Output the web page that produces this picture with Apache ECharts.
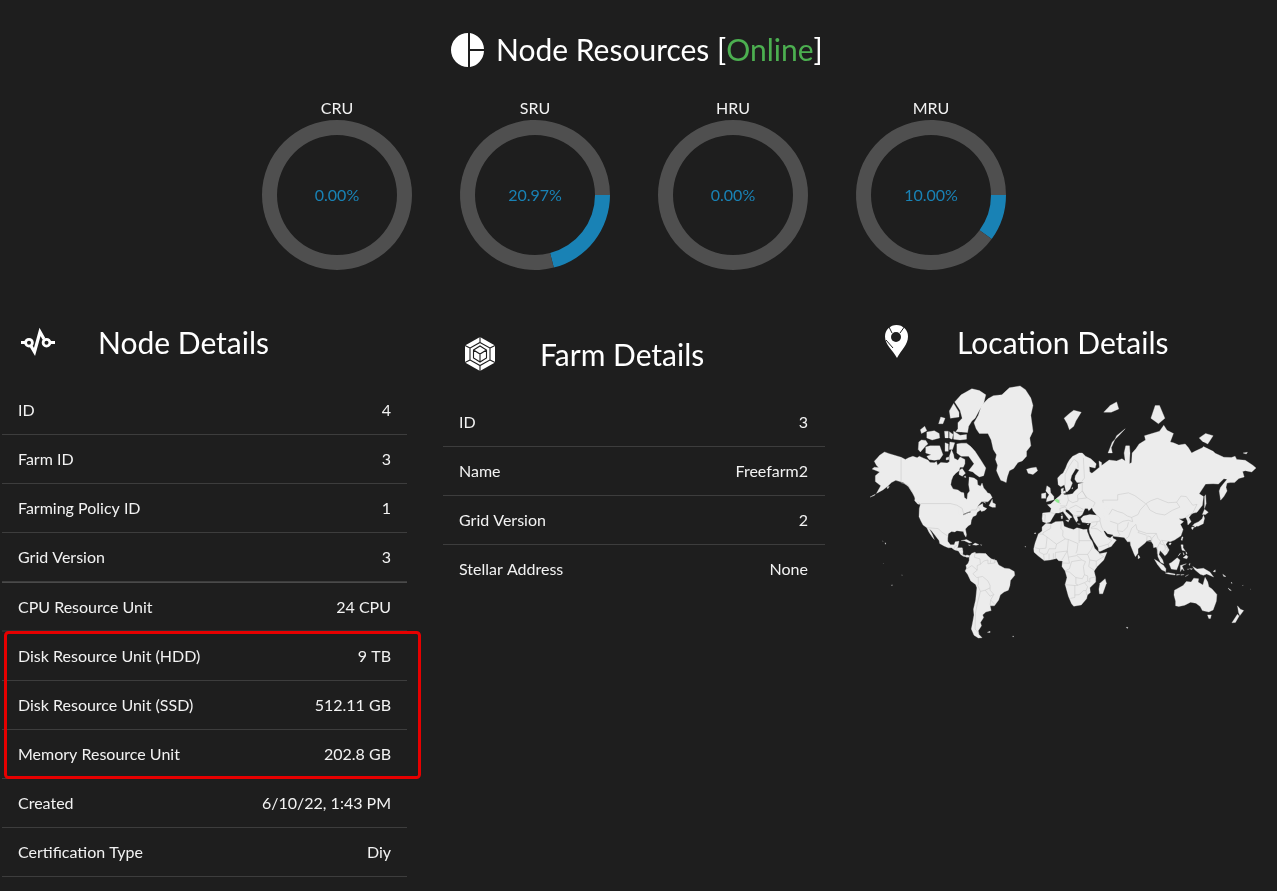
<!DOCTYPE html>
<html>
<head>
<meta charset="utf-8">
<title>Node Resources</title>
<style>
html, body { margin: 0; background: #1e1e1e; overflow: hidden; }
#chart { width: 1277px; height: 891px; }
</style>
<script src="https://cdn.jsdelivr.net/npm/echarts@6/dist/echarts.min.js"></script>
</head>
<body>
<div id="chart"></div>
<script>
// gauges
const resourceNames = ["CRU", "SRU", "HRU", "MRU"];
const resourcePercents = [0, 20.97, 0, 10];

// tables
const nodeLabels = ["ID", "Farm ID", "Farming Policy ID", "Grid Version", "CPU Resource Unit", "Disk Resource Unit (HDD)", "Disk Resource Unit (SSD)", "Memory Resource Unit", "Created", "Certification Type"];
const nodeValues = ["4", "3", "1", "3", "24 CPU", "9 TB", "512.11 GB", "202.8 GB", "6/10/22, 1:43 PM", "Diy"];
const farmLabels = ["ID", "Name", "Grid Version", "Stellar Address"];
const farmValues = ["3", "Freefarm2", "2", "None"];

// land outlines, [lon, lat]
const northAmerica = [[-168,65.6],[-166,66.3],[-162,66.2],[-164,67],[-166,68.4],[-163,69.5],[-161,70.3],[-156.5,71.3],[-152,70.8],[-148,70.4],[-141,69.7],[-137,69],[-134,69.5],[-130,70],[-126,69.5],[-124,70],[-120,69.4],[-116,68.8],[-114,68],[-110,67.9],[-108,68.3],[-107,67],[-104,68],[-98,67.8],[-96,68.2],[-96,70],[-94,71.9],[-92,70.5],[-91.5,69.4],[-88,68.7],[-86,69.8],[-85,69.6],[-81.5,69],[-81.5,67.5],[-83,66.3],[-86,66.3],[-87,65],[-90,64],[-92.5,62.8],[-94,61],[-94.7,59],[-92.5,57],[-88,56.5],[-85,55.3],[-82.5,55],[-82,52.5],[-79.5,51.3],[-79,54.5],[-77,56],[-78,59],[-77.5,62.4],[-73,62],[-70,61],[-69.5,59],[-67,58.3],[-65.5,59.8],[-64,57.5],[-61.5,56],[-60.5,55],[-58,54.5],[-56,52.5],[-60,50],[-66,50],[-70,47],[-65,49],[-64.5,47],[-61,46],[-63,44.7],[-66,44],[-67,45],[-70,43.5],[-71,41.5],[-74,40.5],[-75.5,38],[-76,35],[-78.5,33.8],[-81,31.5],[-80,27],[-80.5,25],[-82,27],[-83,29.5],[-85,29.7],[-89,30.2],[-91,29.2],[-94,29.5],[-97,27.8],[-97.5,24],[-97.5,21.5],[-95,18.5],[-91.5,18.5],[-90.5,21],[-87,21.5],[-88,17],[-88.5,15.8],[-84,15.8],[-83.3,12.5],[-83.5,10],[-81,9],[-79.5,9.5],[-77,8.7],[-78,7.5],[-80,7.5],[-81,8],[-83,8.3],[-85.5,10],[-87.5,13],[-91,14],[-94,16],[-97,15.8],[-101,17.5],[-105,19.5],[-105.5,22],[-109,26],[-112.5,30],[-114.7,31.7],[-112,27.5],[-110,23],[-112,25],[-115,29],[-117,32.5],[-120.5,34.5],[-122.5,37.5],[-124.3,40.5],[-124,46],[-123,48.5],[-127,51],[-130,54.5],[-134,58],[-139,60],[-146,61],[-150,60],[-153,58.5],[-158,56.5],[-164,54.7],[-160,58.5],[-165,60.5],[-165,63],[-161,64.5]];
const greatLakes = [
  [[-92,46.7],[-88,48.5],[-85,47.5],[-85,46.5],[-88,46.5]],
  [[-87.5,41.7],[-88,45],[-85,46],[-85,43]],
  [[-84,46],[-80,45],[-82,43],[-84,44]],
  [[-83,41.6],[-79,42.8],[-76,43.5],[-76.5,44.2],[-79.5,43.3],[-83,42.3]]
];
const southAmerica = [[-77,8.7],[-75,11],[-72,12],[-71.5,10.8],[-68,11],[-62,10.7],[-60,8.5],[-57,6],[-52,4.5],[-50,0.5],[-44.5,-2.5],[-40,-3],[-35.5,-5.5],[-35,-9],[-39,-13.5],[-39.5,-18],[-41,-22],[-45,-23.5],[-48.5,-26],[-50,-30],[-54,-34.5],[-58,-34.5],[-57,-38],[-62,-39],[-65,-41],[-64,-42.8],[-67,-46],[-66,-48],[-69,-51],[-68.5,-53],[-65.5,-54.8],[-69,-55],[-73,-53.5],[-75.5,-50],[-74,-45],[-73,-41],[-73.5,-37],[-71.5,-30],[-70.3,-20],[-71.5,-17],[-76,-14],[-79,-8],[-81.3,-5],[-80,-2.5],[-80.5,0],[-78.5,2],[-77.5,4.5],[-77.5,7]];
const africa = [[-5.8,35.8],[-1,35.3],[3,37],[10,37.3],[11,33.5],[15,32.3],[20,31],[23,32.5],[29,31],[32.5,31.2],[32.5,29.8],[35,24],[37.3,21],[39.5,15.5],[43.3,12],[44,10.5],[51,12],[48,5],[42,-1],[39,-5],[40.5,-11],[40.5,-15],[35,-20],[35.5,-24],[32.8,-26],[32,-29],[27,-33.8],[20,-34.8],[18,-33],[15,-27],[12,-17],[13.7,-11],[12,-5],[9,-1],[9.5,4],[6,4.3],[4,6.3],[-2,5],[-7.5,4.4],[-13,8.5],[-17,12],[-17.3,15],[-16,20],[-13,27.5],[-9.5,30],[-9.5,33]];
const eurasia = [[-9,37],[-9.5,39],[-9,43],[-2,43.5],[-1,46],[-4.5,48.3],[-1.5,48.7],[1.5,50.5],[4,52],[7,53.5],[8.5,54.5],[8.2,57],[10.5,57.5],[10,55],[11,54],[14,54],[19,54.5],[21,56],[24,57.3],[24,59.3],[29.5,60],[23,60],[21,61.5],[21.5,63],[25,65.3],[22,65.8],[18,63],[17,61],[18.8,59.8],[16.5,57],[14,55.5],[12.8,55.5],[11.3,59],[8,58],[5.5,59],[5,62],[8,63.5],[10,64],[12.5,66],[14,67.5],[16,68.8],[19,70],[22,70.5],[25,71],[28,71],[31,70],[36,69.2],[41,67.5],[40,66],[34.5,66.5],[35,64.5],[37,64],[40,65],[44,66.3],[43.5,68.5],[46,68],[46,66.9],[53,68.8],[60,68.5],[65,69.2],[68,68.5],[67,71],[68.5,73],[72,73],[72.5,71],[72,67.5],[74,68],[74.5,71],[78,72.2],[81,73.5],[87,74.5],[86,75.5],[93,76],[100,76.5],[104,77.7],[107,76.7],[113,76],[110,74],[113,73.8],[118,73.2],[124,73.5],[127,72.5],[130,71],[133,71.5],[140,72.5],[141,72.8],[150,71.5],[152,70.9],[160,69.7],[167,69.6],[170.5,70],[172,69],[180,68.7],[187,67],[190,66],[186,64.5],[180,65],[177.5,64.7],[179,62.5],[174,61.8],[170,60],[166,60],[163,59.8],[162,57.8],[163,56],[160,53],[157,51],[155.7,56],[157,57.8],[163,61.5],[160,61.7],[155,59.3],[150,59.5],[143,59.3],[137,54.5],[141,53],[140,48],[135,43.5],[132,43],[130,42.5],[127.5,40],[129.5,37],[126.5,34.5],[126,37.5],[124.5,40],[121,39],[118,39],[122.5,37],[119.5,35],[122,31],[120,26],[114,22.5],[110,21],[108,21.5],[106,19],[109,14],[107,10.5],[105,8.7],[103,11],[100.5,13.5],[99.5,10],[103,5],[104,1.5],[101,3],[98.5,8],[98,14],[97,16.5],[94.5,16],[94,19],[91.5,22.5],[88,21.7],[86.5,20],[82,16.5],[80,15],[80,11],[77.5,8],[76,11],[73,18],[72.7,21],[70,21],[69,22.5],[67,24.7],[61,25.2],[57,25.7],[56.5,27],[51.5,27.8],[49,30.2],[48,29.8],[50,26.5],[51.5,25],[54,24.2],[56.3,26],[56.6,24],[59.8,22.5],[55,17],[52,16],[45,12.8],[43.3,12.8],[42.7,16],[39,21],[35,28],[34.5,28],[34.3,31.2],[36,36],[32,36],[28,36.5],[26.5,39],[29,41],[35,42],[41.5,41.5],[38,44.5],[37,46.5],[34,44.5],[33,46],[30.5,46],[28,42],[26,40.8],[23,40.5],[24,38],[22.5,36.5],[20,40],[19,42],[15,45],[12.5,45.5],[12.5,44],[16,41.8],[18.5,40.2],[16.5,39.5],[16,38],[12.5,41.5],[10,44],[6,43],[3,43],[0,39.5],[-2,36.8],[-5.5,36]];
const caspianSea = [[47,45],[51,47],[53,45.5],[51,44],[53,41],[54,37],[50,37.5],[49,40],[47.5,43]];
const islands = [
  // Greenland
  [[-73,78.2],[-69,79.5],[-66,81],[-60,81.9],[-55,82.3],[-47,82.4],[-40,83.2],[-30,83.4],[-25,83],[-20,82],[-18,81],[-20,79.5],[-18,76.5],[-21,75],[-20,73],[-24,71.5],[-24,70],[-28,68.5],[-32,68],[-36,65.8],[-40,65],[-42,62.5],[-43,60],[-46,60.7],[-48,61],[-50,63],[-52,65],[-51,67],[-53,69],[-52,70.5],[-55,72],[-57,74.5],[-60,76],[-68,76],[-71,77]],
  // Arctic Canada
  [[-62,66],[-64,63],[-68,62.5],[-72,63.7],[-74,64.5],[-78,65],[-73,67.5],[-78,70],[-85,70],[-89,71],[-89,73.5],[-85,73.7],[-80,73.7],[-76,72.8],[-72,71.5],[-67,69]],
  [[-105,69],[-110,68.7],[-115,69],[-117,70],[-113,70.5],[-118,71],[-118,72.7],[-114,73],[-110,73],[-105,73],[-102,70.5]],
  [[-125,72],[-123,71.3],[-118,73],[-116,73.5],[-118,74.4],[-122,74.5],[-124.5,74]],
  [[-90,76.4],[-85,76.3],[-79,76.2],[-78,77.5],[-75,78.5],[-72,79],[-68,80.3],[-64,81.3],[-62,82.4],[-68,82.9],[-75,83.1],[-85,82.4],[-91,81.5],[-86,80.3],[-84,79],[-88,78.2],[-88,77]],
  [[-95,79],[-87,79.2],[-87,80],[-92,81.3],[-96,80.2]],
  [[-92,74.7],[-86,74.5],[-80,74.7],[-80,75.8],[-86,75.6],[-92,76.5]],
  [[-117,75],[-112,74.5],[-105,75],[-105.5,76],[-110,76.6],[-117,76.3]],
  [[-100,75],[-97,75],[-97,76.5],[-100.5,76.5]],
  [[-96,75],[-93.5,74.7],[-92.5,75.8],[-96,76.4]],
  [[-122,76],[-117,76.6],[-119,77.5],[-123,76.8]],
  [[-106,78],[-102,78],[-100,79],[-104,79.2]],
  [[-100,71.5],[-97,71.5],[-97,73.5],[-100,73.8]],
  [[-96,72],[-93,72],[-91,73.8],[-95.5,74]],
  [[-99,68.8],[-96.5,69],[-96.5,69.8],[-99,69.5]],
  [[-59,47.7],[-56,46.8],[-53,46.7],[-53,48.7],[-55.5,49.5],[-56,51.5]],
  [[-87,63.5],[-84,62.8],[-81,64],[-84,65.8],[-86.5,65.2]],
  [[-82.5,62.5],[-80.5,62.2],[-81,62.9]],
  [[-64,49.8],[-62,49.2],[-63,49.8]],
  [[-128,52.8],[-123.5,48.5],[-125.5,48.7],[-128.3,50.7]],
  // Aleutians
  [[-170,52.7],[-165,54.3],[-166,53.6]],
  [[-154,58],[-152,58.2],[-153.5,57]],
  // Caribbean
  [[-85,22],[-80,23],[-75,20.5],[-77.5,20],[-82,22]],
  [[-74.3,18.5],[-72,20],[-68.5,18.7],[-71,18]],
  [[-78.3,18.4],[-76.3,18.2],[-76.8,17.8]],
  [[-67,18.5],[-65.7,18.4],[-66,18]],
  // North Atlantic and Arctic Europe
  [[-24,65.5],[-20,66],[-15,66.3],[-13.7,65],[-18,63.5],[-22.5,64]],
  [[11,79],[16,79.8],[20,80.3],[27,80],[22,78.5],[20,77.5],[16,76.8],[14,78]],
  [[52,71],[56,74],[62,75.5],[68,77],[60,75.5],[55,72.5],[56,71]],
  [[48,80],[54,81],[60,81.5],[62,80.5],[55,80]],
  [[92,79],[96,81],[100,81],[105,79],[99,78]],
  [[137,75],[143,76],[150,75.5],[145,73.5],[140,74.2]],
  [[178,71],[182,71.2],[181,70.7]],
  [[-5.5,50],[1.5,51.2],[1.5,53],[-1.5,55],[-2,57.5],[-5,58.5],[-6,56],[-3,54],[-5,52]],
  [[-10,52],[-6,52],[-6,55],[-10,54.5]],
  [[8.2,55],[11,56],[12.5,56],[12.2,54.8],[10,54.8]],
  [[18.2,57],[19,57.8],[18.8,57]],
  // Mediterranean
  [[12.5,38],[15.5,38.2],[15,36.7]],
  [[8.2,41],[9.7,41],[9.5,39.2],[8.5,39]],
  [[8.6,42.5],[9.5,43],[9.3,41.4]],
  [[23.6,35.5],[26.2,35.2],[24.7,35]],
  [[32.5,35],[34.5,35.6],[33.5,34.7]],
  // East Asia
  [[130.8,34],[136,33.6],[140.8,35.5],[142,39.5],[141,41.5],[139.8,39],[136.5,37],[132.5,35.5]],
  [[140,42],[143,42],[145.5,43.5],[142,45.5]],
  [[130,33],[132,33],[131,31],[130,31.5]],
  [[132.5,34],[134.5,34.2],[134,33.3],[132.7,32.8]],
  [[142,46],[143.5,49],[143,54],[142,53]],
  [[120.2,23],[121,22],[122,25],[121,25.2]],
  [[108.7,19],[110,18.3],[111,20],[109.5,20]],
  [[80,9.5],[80,6],[81.8,7],[81,8.7]],
  // Philippines and Indonesia
  [[120,18.5],[122,18.5],[122,16],[124,13],[121,13.8]],
  [[122,7],[125.5,6],[126.5,8],[125,9.5]],
  [[117.2,8.4],[119.5,11.3],[119,10]],
  [[122,11.8],[123.2,10],[122.5,9.4]],
  [[124.5,12.5],[125.7,11],[125,10.2]],
  [[109,1.5],[111.5,3],[116.5,7],[119,5],[118,1],[116,-4],[111,-3.3]],
  [[95.3,5.6],[98,4],[103.8,0],[106,-3],[105.8,-5.8],[102,-4],[98,1]],
  [[105.3,-6.8],[108.5,-6.7],[114.5,-7.7],[114.5,-8.7],[108,-7.8]],
  [[119.5,-5.5],[119.5,0],[125,1.5],[121,-0.5],[123,-5],[121,-3]],
  [[116,-8.3],[119,-8.3],[119,-9],[116,-9]],
  [[119.8,-8.4],[123,-8.3],[122.8,-8.9],[120,-8.9]],
  [[124,-10],[127,-8.5],[125,-9.5]],
  [[127.5,1],[128.5,2],[128,0]],
  [[126,-3.2],[127.2,-3.3],[126.5,-3.7]],
  [[128,-3],[130.8,-3],[130,-3.6]],
  [[131,-1],[135,-3.3],[141,-2.6],[147,-6],[150.5,-10.5],[144,-7.7],[141,-9],[138,-8],[133,-4]],
  [[150,-5.5],[152,-4],[152,-6]],
  [[159,-8],[162,-10],[160,-10]],
  // Oceania
  [[114,-22],[113.5,-26],[115,-31],[115,-34.5],[118,-35],[123.5,-34],[129,-31.7],[134,-32.5],[138,-35],[140,-38],[146,-39],[150,-37.5],[153,-31],[153.5,-25.5],[149,-21],[146,-19],[145,-15],[142.5,-10.8],[141.5,-14],[140.5,-17.5],[136,-15],[136.5,-12],[132,-11.5],[129.5,-15],[125,-14.5],[122,-18],[117,-20.5]],
  [[144.8,-41],[148.3,-41],[147.5,-43.5],[146,-43.5]],
  [[172.7,-34.5],[175.5,-37],[178.5,-38],[175,-41.5],[173.8,-39.5]],
  [[172.7,-40.5],[174.3,-41.7],[170.8,-46],[167.5,-46.2],[171,-42.5]],
  [[164,-20.2],[167,-22.3],[165.5,-22]],
  [[178,-17.5],[178.6,-18],[177.5,-18.2]],
  [[167,-15],[167.8,-16],[167,-16]],
  [[184.6,-21],[185,-21.3],[184.5,-21.3]],
  // small ocean islands
  [[49.3,-12],[50.5,-16],[47,-25],[44,-25],[43.5,-21],[44.5,-16]],
  [[-60.5,-51.9],[-58,-51.3],[-58,-52]],
  [[-156,20.2],[-155,19.6],[-155.7,19]],
  [[-158.3,21.6],[-157.7,21.4],[-158,21.2]],
  [[-17,28],[-15.5,28.5],[-15.5,27.8]],
  [[69,-49],[70.5,-49],[70,-49.7]],
  [[-25.5,17],[-24.5,16.8],[-25,16.5]],
  [[-150,-17.5],[-149,-17.6],[-149.7,-17.9]],
  [[-140.5,-8.8],[-139.8,-8.9],[-140.2,-9.3]],
  [[-157.5,1.9],[-157.2,1.9],[-157.4,1.6]],
  [[-37,-54],[-36,-54],[-36.5,-54.5]]
];
const belgium = [[2.3,51.2],[4.3,51.6],[6.3,51],[6.3,49.4],[4.3,49.8],[2.6,50.6]];
const countryBorders = [
  [[-141,69.7],[-141,60],[-135,59],[-130,55]],
  [[-123,49],[-95,49],[-89,48],[-84,46],[-82.5,42],[-79,43],[-75,45],[-71,45],[-69,47.3],[-67.5,45]],
  [[-117,32.5],[-106.5,31.8],[-103,29],[-99.5,27],[-97.2,25.9]],
  [[-92,14.5],[-91,17],[-89,18]], [[-88.5,15.8],[-90,13.8]], [[-83.2,15],[-87,13]], [[-83.7,11],[-85.7,11]], [[-83,8.5],[-82.5,9.5]],
  [[-72,12],[-72.5,7.3],[-67.5,6],[-67,1]],
  [[-51.5,4.3],[-54,2.2],[-60,1.5],[-60,5],[-64,4],[-67,1],[-70,0],[-70,-4.3],[-74,-7.5],[-70.5,-11],[-65,-10],[-60,-14],[-58,-18],[-58,-22],[-54.5,-25.5],[-57.5,-30],[-53.5,-33.5]],
  [[-69.5,-18],[-67,-23],[-70,-33],[-71.7,-40],[-72,-50],[-68.5,-52.5]],
  [[-69,-11],[-69,-17],[-70.4,-18.3]], [[-67,-23],[-62.5,-22],[-58,-20]], [[-62.5,-22],[-58,-27],[-54.5,-25.5]],
  [[-80.3,-3.5],[-75,-0.1]], [[-75,-0.1],[-70,-4.3]], [[-57,6],[-58,2]], [[-54,6],[-54,2.2]], [[-58,-34],[-57.5,-30]],
  [[-1.5,35],[-1.5,32],[-8.7,28.5],[-8.7,27.3],[-13,27.6]], [[-8.7,27.3],[-4.8,25],[-6,15.5],[-12,15],[-16.5,16]],
  [[-4.8,25],[1,21],[4,19]], [[8.5,37],[8,32],[10,30],[9.7,26],[12,23.5],[4,19]], [[25,32],[25,20]], [[12,23.5],[15,23],[24,19.5]], [[25,22],[36.9,22]],
  [[3,11.8],[14,13],[15,23]], [[24,19.5],[23,13],[22,11]], [[-12,15],[-12,12],[-8,10],[-5,10.5],[-3,15],[3,15],[4,19]],
  [[-8,10],[-7.5,4.4]], [[-3,10.8],[-3,5]], [[1,11],[1,6]], [[3,11.8],[2.7,6.4]], [[14,13],[8.7,4.6]], [[14,13],[15,7.5],[16,2],[9.7,2.2]],
  [[15,7.5],[23,9],[27.5,5],[18,3.5]], [[23,10],[33,10],[36,14]], [[36,14],[38,18]], [[33,10],[35,5],[41,4],[48,8],[43,11]],
  [[41,4],[41,-1.7]], [[35,5],[34,-1],[39.5,-4.7]], [[12.3,-5.5],[16,-6],[22,-11],[28,-12],[30,-8.5],[29,-1],[31,3.5],[27.5,5]], [[18,3.5],[16,-3],[12,-5]],
  [[11.8,-17.2],[21,-18],[24,-17.7]], [[22,-11],[22,-16.5],[24,-17.7]], [[24,-17.7],[30,-15.5],[33,-14],[33,-9.5],[30,-8.5]],
  [[40.5,-10.5],[35,-11.5],[35,-15],[33,-14]], [[30,-15.5],[33,-19],[31.5,-22.3],[32,-26]], [[21,-18],[21,-28],[17,-28.7]], [[21,-26],[25,-25.7],[29,-22.3],[31.5,-22.3]],
  [[36,36.5],[42,37],[44.5,37.5],[44.5,39.7],[41.5,41.5]], [[44.5,37.5],[46,33],[48,30]], [[46,29],[42,31.5],[39,32],[36,32]], [[36,32.5],[41,34.5],[42,37]],
  [[43,16.5],[52,19],[55.5,22],[52,24]], [[52,19],[53,16.5]],
  [[61,25.2],[63,27],[61,30],[61,35],[66,37.3],[71,38],[75,37]], [[61,30],[66,29.5],[70,33],[71,36.5]], [[68.5,23.7],[71,25],[74,32],[78,35]],
  [[78,35],[79,31],[81,30],[88,28],[92,28],[97,28]], [[81,30],[80,28.7],[88,26.5]], [[88.5,26],[88,22],[92.5,21],[92,25],[89,26]],
  [[92.5,21],[93,24],[97,28],[98.5,24],[101,21.5],[98,16],[98,10.5]], [[101,21.5],[100.5,19.5],[105,18],[105.5,14.5],[102.5,12]], [[102,22.3],[104,19.5],[107.5,15],[107,11.5]], [[102,22.3],[108,21.5]], [[100.2,6.5],[102,6]],
  [[87.5,49],[91,45],[97,42.7],[105,41.7],[112,44.8],[119,46.8],[116,49.8],[108,49.5],[98,52],[92,50.7],[87.5,49]],
  [[116,49.8],[120,53.3],[125,53],[131,48],[135,48.5],[131,43],[130.5,42.5]], [[124.5,40],[128,42],[130.5,42.5]], [[126,37.8],[128.5,38.5]],
  [[87.5,49],[82,45],[80,42],[74,40],[75,37]], [[47.5,49.5],[47,51],[61,51],[61,54],[71,55],[77,53.5],[87,49]], [[53,42],[56,45.5],[61,44],[66,43],[70,41],[74,40]], [[54,37.3],[61,35.5]],
  [[28,60],[28,56],[32,52.5],[40,49.5],[38,47]], [[24,51.7],[32,52.2],[28,56],[24,54]], [[14.2,54],[15,51],[19,49.5],[24,50.5],[23.5,54]],
  [[29,69.5],[30,62],[27.5,60.5]], [[24,66],[24,68],[20.5,69]], [[12,59],[12,63.5],[15.5,66.5],[20,69]], [[8,48.9],[6.5,49.3],[7,51.5]],
  [[-1.5,43.3],[3,42.5]], [[-8.8,42],[-6.5,41.8],[-7,37.2]], [[7.5,44],[7,46],[12,47],[13.7,45.7]], [[7.5,47.6],[13,47.5],[15,51]],
  [[16,46],[22,48],[29,45.3]], [[22.5,44],[28,44]], [[19,42],[21,41],[26,41.5]]
];

// page layout
const BG = "#1e1e1e";
const FONT = "Lato";
const TEXT = "#f2f2f2";
const RULE = "#3d3d3d";
const HEADING = "400 30px " + FONT;
const gaugeCenters = [337, 535, 733, 931];
const gaugeY = 195;
const nodeRowY = [411, 460, 509, 558, 608, 657, 706, 755, 804, 853];
const nodeRuleY = [434.5, 483.5, 532.5, 581.5, 631, 680.5, 729.5, 778.5, 827.5, 876.5];
const farmRowY = [423, 472, 521, 570];
const farmRuleY = [446.5, 495.5, 544.5];

// the graphic component has no plain path type, so each icon shape gets registered
function iconShape(name, d) {
  echarts.graphic.registerShape(name, echarts.graphic.extendPath(d, {}));
  return name;
}

function label(x, y, text, extra) {
  return {
    type: "text", x: x, y: y, silent: true,
    style: Object.assign({ text: text, fill: TEXT, font: "16px " + FONT, verticalAlign: "middle", align: "left" }, extra || {})
  };
}

function rule(x1, x2, y, color, width) {
  return { type: "line", silent: true, shape: { x1: x1, y1: y, x2: x2, y2: y }, style: { stroke: color || RULE, lineWidth: width || 1 } };
}

function tableElements(labels, values, rowY, ruleY, left, right, ruleLeft, ruleRight) {
  const els = [];
  labels.forEach(function (name, i) {
    els.push(label(left, rowY[i], name));
    els.push(label(right, rowY[i], values[i], { align: "right" }));
  });
  ruleY.forEach(function (y) {
    els.push(rule(ruleLeft, ruleRight, y));
  });
  return els;
}

function iconElements() {
  const white = "#ffffff";
  const resources = iconShape("iconResources", "M468 33 A17 17 0 0 0 468 67 Z M470 33 A17 17 0 0 1 484 49 L470 49 Z M470 51 L484 51 A17 17 0 0 1 470 67 Z");
  const farmBody = iconShape("iconFarmBody", "M480 337 L495 345.5 L495 362.5 L480 371 L465 362.5 L465 345.5 Z");
  const farmLines = iconShape("iconFarmLines", "M480 342.5 L490 348 L490 360 L480 365.5 L470 360 L470 348 Z M473.5 350 L480 346 L486.5 350 L486.5 358 L480 362 L473.5 358 Z M473.5 350 L480 354 L486.5 350 M480 354 L480 362 M480 337 L480 342.5 M465 345.5 L470 348 M495 345.5 L490 348 M465 362.5 L470 360 M495 362.5 L490 360 M480 371 L480 365.5");
  const pin = iconShape("iconPin", "M897 358 C893 350 885 345 885 336.5 A11.5 11.5 0 0 1 908 336.5 C908 345 901 350 897 358 Z");
  const pinLines = iconShape("iconPinLines", "M886 340 L893 348 M889 327 L892 333 M900 333 L905 326");
  return [
    { type: resources, silent: true, shape: {}, style: { fill: white } },
    // node icon
    { type: "polyline", silent: true, shape: { points: [[21, 342.5], [26, 342.5]] }, style: { stroke: white, lineWidth: 3, fill: null } },
    { type: "circle", silent: true, shape: { cx: 29, cy: 342.7, r: 3.4 }, style: { stroke: white, lineWidth: 2.8, fill: "none" } },
    { type: "circle", silent: true, shape: { cx: 46.5, cy: 342.7, r: 3.4 }, style: { stroke: white, lineWidth: 2.8, fill: "none" } },
    { type: "polyline", silent: true, shape: { points: [[31, 346], [34.5, 352], [40, 332], [44, 339]] }, style: { stroke: white, lineWidth: 3.2, fill: null } },
    { type: "polyline", silent: true, shape: { points: [[50, 342.5], [55, 342.5]] }, style: { stroke: white, lineWidth: 3, fill: null } },
    { type: farmBody, silent: true, shape: {}, style: { fill: white } },
    { type: farmLines, silent: true, shape: {}, style: { stroke: BG, lineWidth: 1.1, fill: "none" } },
    { type: pin, silent: true, shape: {}, style: { fill: white } },
    { type: "circle", silent: true, shape: { cx: 896, cy: 337, r: 5 }, style: { fill: BG } },
    { type: pinLines, silent: true, shape: {}, style: { stroke: BG, lineWidth: 1, fill: "none" } }
  ];
}

function gaugeTexts() {
  const els = [];
  resourceNames.forEach(function (name, i) {
    els.push(label(gaugeCenters[i], 109, name, { align: "center" }));
    els.push(label(gaugeCenters[i], 196, resourcePercents[i].toFixed(2) + "%", { align: "center", fill: "#1982b5" }));
  });
  return els;
}

function gaugeSeries() {
  return resourceNames.map(function (name, i) {
    return {
      type: "pie", name: name, silent: true, animation: false,
      center: [gaugeCenters[i], gaugeY], radius: [60, 75],
      startAngle: 0, clockwise: true,
      label: { show: false }, labelLine: { show: false },
      data: [
        { value: resourcePercents[i], itemStyle: { color: "#1982b5" } },
        { value: 100 - resourcePercents[i], itemStyle: { color: "#4f4f4f" } }
      ]
    };
  });
}

function polygonFeature(name, rings) {
  return { type: "Feature", properties: { name: name }, geometry: { type: "Polygon", coordinates: rings } };
}

const worldJson = {
  type: "FeatureCollection",
  features: [
    polygonFeature("North America", [northAmerica].concat(greatLakes)),
    polygonFeature("South America", [southAmerica]),
    polygonFeature("Africa", [africa]),
    polygonFeature("Eurasia", [eurasia, caspianSea]),
    polygonFeature("Belgium", [belgium])
  ].concat(islands.map(function (ring, i) { return polygonFeature("Island " + i, [ring]); }))
};

echarts.registerMap("world", worldJson);

const DEG = Math.PI / 180;
const Y_STRETCH = 1.024;
const mercator = {
  project: function (p) {
    return [p[0] * DEG * 100, -100 * Y_STRETCH * Math.log(Math.tan(Math.PI / 4 + p[1] * DEG / 2))];
  },
  unproject: function (p) {
    return [p[0] / DEG / 100, (2 * Math.atan(Math.exp(-p[1] / 100 / Y_STRETCH)) - Math.PI / 2) / DEG];
  }
};

const chart = echarts.init(document.getElementById("chart"));
chart.setOption({
  backgroundColor: BG,
  animation: false,
  tooltip: { show: false },
  geo: {
    map: "world", roam: false, silent: true,
    projection: mercator,
    layoutCenter: [1063, 512], layoutSize: 386,
    itemStyle: { areaColor: "#ececec", borderColor: "#ececec", borderWidth: 0.3 },
    label: { show: false },
    regions: [{ name: "Belgium", itemStyle: { areaColor: "#90ee90", borderColor: "#90ee90" } }]
  },
  series: gaugeSeries().concat([{
    type: "lines", coordinateSystem: "geo", polyline: true, silent: true, animation: false,
    lineStyle: { color: "#c4c4c4", width: 0.5, opacity: 1 },
    data: countryBorders.map(function (line) { return { coords: line }; })
  }]),
  graphic: {
    elements: [].concat(
      [label(496, 51, "{w|Node Resources [}{g|Online}{w|]}", {
        rich: {
          w: { font: HEADING, fill: "#ffffff" },
          g: { font: HEADING, fill: "#4caf50" }
        }
      })],
      gaugeTexts(),
      [
        label(98, 344, "Node Details", { font: HEADING, fill: "#ffffff" }),
        label(540, 356, "Farm Details", { font: HEADING, fill: "#ffffff" }),
        label(957, 344, "Location Details", { font: HEADING, fill: "#ffffff" })
      ],
      tableElements(nodeLabels, nodeValues, nodeRowY, nodeRuleY, 18, 391, 2, 407),
      tableElements(farmLabels, farmValues, farmRowY, farmRuleY, 459, 808, 443, 825),
      [rule(2, 407, 582.5, "#4a4a4a", 1)],
      iconElements(),
      [{ type: "rect", silent: true, shape: { x: 5.5, y: 632.5, width: 414, height: 145, r: 3 }, style: { fill: "none", stroke: "#e60000", lineWidth: 3 } }]
    )
  }
});
</script>
</body>
</html>
